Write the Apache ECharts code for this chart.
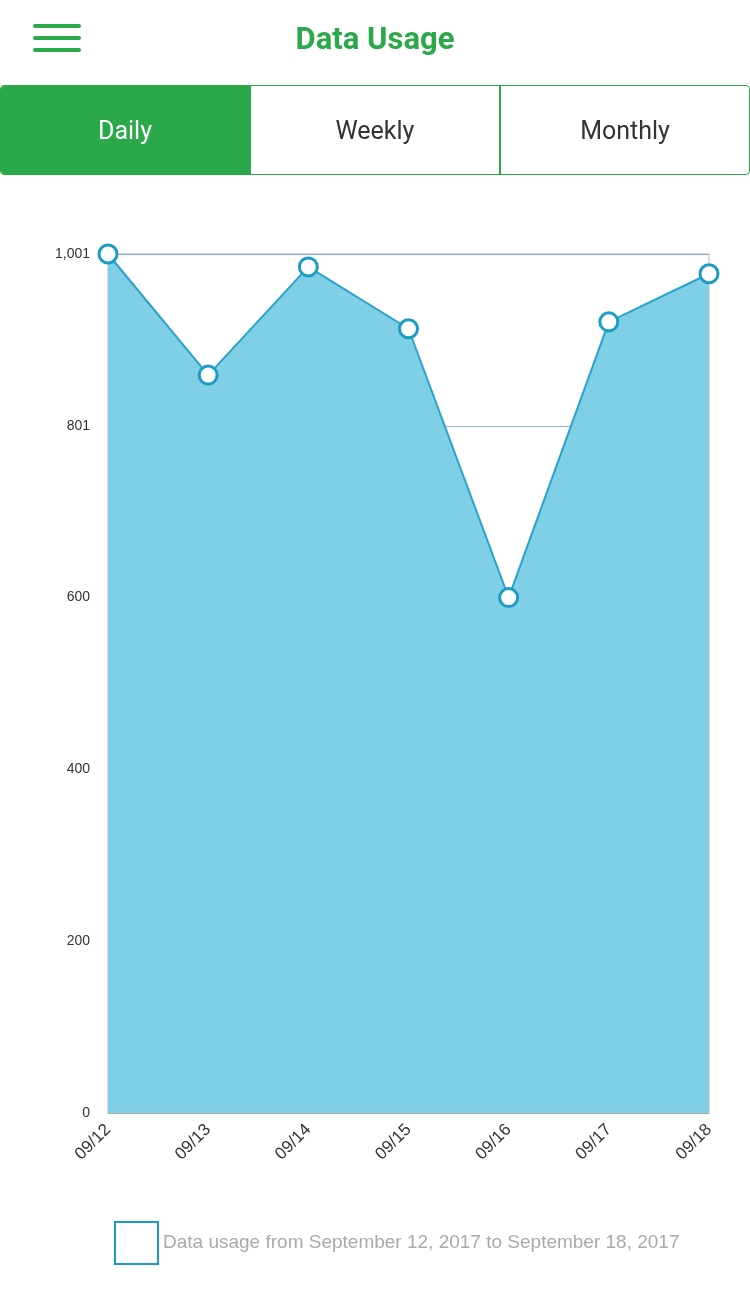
<!DOCTYPE html>
<html>
<head>
<meta charset="utf-8">
<script src="https://cdn.jsdelivr.net/npm/echarts@6/dist/echarts.min.js"></script>
<style>
html,body{margin:0;padding:0;width:750px;height:1291px;background:#fff;font-family:"Helvetica Neue",Roboto,"Noto Sans",sans-serif;overflow:hidden}
.chart{position:absolute;left:0;top:0;width:750px;height:1291px}
.menu{position:absolute;left:33px;top:24px;width:48px}
.menu div{height:4px;background:#2aa84a;border-radius:2px;margin-bottom:8px}
.title{position:absolute;left:0;top:20px;width:750px;text-align:center;color:#2aa84a;font-size:31px;font-weight:bold}
.tabs{position:absolute;left:0;top:85px;width:750px;height:90px;display:flex;border:1px solid #2aa84a;box-sizing:border-box;border-radius:4px;overflow:hidden}
.tabs div{flex:1;display:flex;align-items:center;justify-content:center;font-size:25px;color:#333;border-left:2px solid #2aa84a}
.tabs div:first-child{border-left:none;background:#2aa84a;color:#fff}
</style>
</head>
<body>
<div class="chart" id="main"></div>
<div class="menu"><div></div><div></div><div></div></div>
<div class="title">Data Usage</div>
<div class="tabs"><div>Daily</div><div>Weekly</div><div>Monthly</div></div>
<script>
var days = ['09/12', '09/13', '09/14', '09/15', '09/16', '09/17', '09/18'];
var usage = [1000, 859, 985, 913, 600, 921, 977];
var seriesName = 'Data usage from September 12, 2017 to September 18, 2017';
// 刻度文字（原图里就是这样的）
var tickText = {0: '0', 200: '200', 400: '400', 600: '600', 800: '801', 1000: '1,001'};

var myChart = echarts.init(document.getElementById('main'));
var option = {
    animation: false,
    grid: {
        left: 108, right: 41, top: 254, bottom: 178,
        show: true, borderColor: '#bbb', borderWidth: 1
    },
    legend: {
        left: 109, top: 1216,
        itemWidth: 43, itemHeight: 42,
        itemGap: 14,
        icon: 'rect',
        textStyle: {color: '#aaa', fontSize: 19},
        data: [seriesName]
    },
    xAxis: {
        type: 'category',
        boundaryGap: false,
        data: days,
        axisLine: {lineStyle: {color: '#aaa'}},
        axisTick: {show: false},
        axisLabel: {rotate: 45, color: '#333', fontSize: 17, margin: 14}
    },
    yAxis: {
        type: 'value',
        min: 0, max: 1000, interval: 200,
        axisLine: {show: true, lineStyle: {color: '#aaa'}},
        axisTick: {show: false},
        splitLine: {lineStyle: {color: 'rgba(60,140,170,0.6)'}},
        axisLabel: {
            color: '#333', fontSize: 14, margin: 18,
            formatter: function (v) { return tickText[v]; }
        }
    },
    series: [{
        name: seriesName,
        type: 'line',
        data: usage,
        color: '#7fcfe6',
        lineStyle: {color: '#29a3c9', width: 2},
        areaStyle: {color: '#7fcfe6', opacity: 1},
        symbol: 'circle',
        symbolSize: 18,
        itemStyle: {color: '#fff', borderColor: '#1a9cc4', borderWidth: 3},
        z: 1
    }]
};
myChart.setOption(option);
</script>
</body>
</html>
